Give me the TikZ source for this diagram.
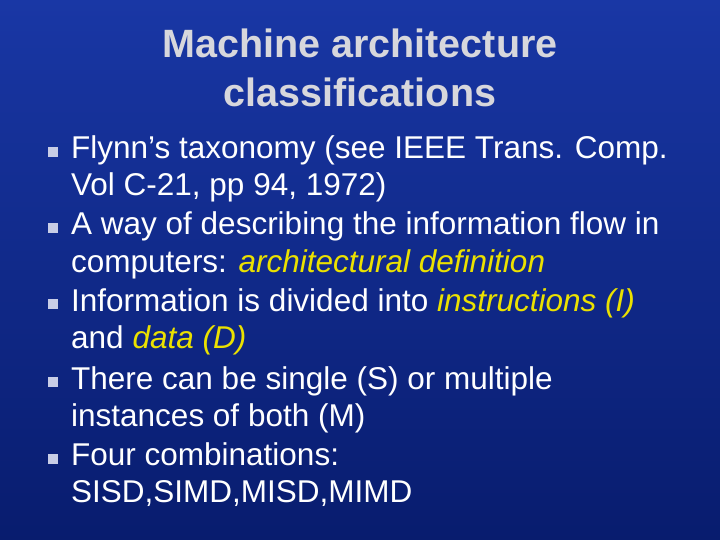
\documentclass[tikz,border=0pt]{standalone}
\usepackage{fontspec}
\setmainfont{Liberation Sans}
\definecolor{bgtop}{RGB}{25,55,165}
\definecolor{bgbot}{RGB}{8,28,110}
\definecolor{ttl}{RGB}{215,215,220}
\definecolor{yel}{RGB}{235,225,0}
\definecolor{bul}{RGB}{200,205,230}
\begin{document}
\begin{tikzpicture}[x=1pt,y=-1pt,
  body/.style={anchor=base west,inner sep=0pt,text=white,font=\fontsize{31.5}{36}\selectfont},
  title/.style={anchor=base,inner sep=0pt,text=ttl,font=\bfseries\fontsize{39.5}{46}\selectfont},
  bull/.style={fill=bul,minimum size=10.5pt,inner sep=0pt,anchor=center}]
\useasboundingbox (0,0) rectangle (720,540);
\shade[top color=bgtop,bottom color=bgbot] (0,0) rectangle (720,540);
\node[title] (t1) at (360,58) {Machine architecture};
\node[title] (t2) at (360,107) {classifications};
\newcommand{\hy}[1]{\textcolor{yel}{\itshape #1}}
\node[body] (l1) at (71,159) {Flynn’s taxonomy (see IEEE Trans. Comp.};
\node[body] (l2) at (71,196) {Vol C-21, pp 94, 1972)};
\node[body] (l3) at (71,235) {A way of describing the information flow in};
\node[body] (l4) at (71,272) {computers: \hy{architectural definition}};
\node[body] (l5) at (71,311) {Information is divided into \hy{instructions (I)}};
\node[body] (l6) at (71,348) {and \hy{data (D)}};
\node[body] (l7) at (71,389) {There can be single (S) or multiple};
\node[body] (l8) at (71,426) {instances of both (M)};
\node[body] (l9) at (71,465) {Four combinations:};
\node[body] (l10) at (71,502) {SISD,SIMD,MISD,MIMD};
\node[bull] (b1) at (53,152) {};
\node[bull] (b2) at (53,228) {};
\node[bull] (b3) at (53,304) {};
\node[bull] (b4) at (53,382) {};
\node[bull] (b5) at (53,459) {};
\end{tikzpicture}
\end{document}
